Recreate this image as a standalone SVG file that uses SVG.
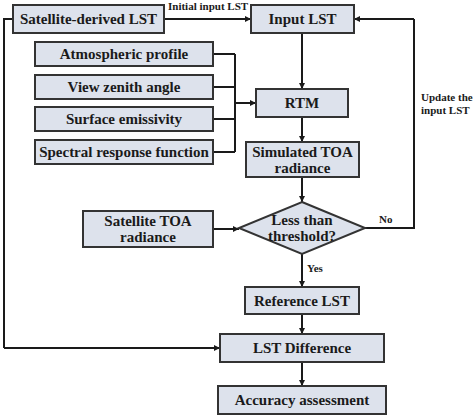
<svg xmlns="http://www.w3.org/2000/svg" width="474" height="417" viewBox="0 0 474 417">
<defs>
<marker id="ah" viewBox="0 0 10 10" refX="10" refY="5" markerWidth="6" markerHeight="6" markerUnits="userSpaceOnUse" orient="auto">
<path d="M0,0 L10,5 L0,10 z" fill="#1a1a1a"/>
</marker>
<style>
.box{fill:#dde2ec;stroke:#333;stroke-width:2}
.t{font-family:"Liberation Serif","Times New Roman",serif;font-weight:bold;font-size:15px;fill:#1a1a1a;text-anchor:middle}
.s{font-family:"Liberation Serif","Times New Roman",serif;font-weight:bold;font-size:11px;fill:#1a1a1a}
.c{fill:none;stroke:#1a1a1a;stroke-width:2}
.a{marker-end:url(#ah)}
</style>
</defs>
<rect width="474" height="417" fill="#fff"/>
<g id="connectors">
<path class="c a" d="M164,19 H251"/>
<path class="c" d="M13,19 H4 V348"/>
<path class="c a" d="M4,348 H220"/>
<path class="c a" d="M302,33 V89"/>
<path class="c" d="M213,54 H235 M213,87 H235 M213,119 H235 M213,152 H235 M235,54 V152"/>
<path class="c a" d="M235,103 H256"/>
<path class="c a" d="M302,117 V142"/>
<path class="c a" d="M302,177 V202"/>
<path class="c a" d="M213,229 H239"/>
<path class="c" d="M365,228 H414 V19"/>
<path class="c a" d="M414,19 H354"/>
<path class="c a" d="M302,254 V287"/>
<path class="c a" d="M302,314 V334"/>
<path class="c a" d="M302,362 V386"/>
<text class="s" x="168" y="10">Initial input LST</text>
<text class="s" x="421" y="101">Update the</text>
<text class="s" x="421" y="114">input LST</text>
<text class="s" x="379" y="223">No</text>
<text class="s" x="307" y="272">Yes</text>
</g>
<g id="satellite-derived-lst"><rect class="box" x="13" y="5" width="151" height="28"/><text class="t" x="88.5" y="24">Satellite-derived LST</text></g>
<g id="input-lst"><rect class="box" x="251" y="5" width="103" height="28"/><text class="t" x="302.5" y="24">Input LST</text></g>
<g id="atmospheric-profile"><rect class="box" x="35" y="42" width="178" height="24"/><text class="t" x="124" y="59">Atmospheric profile</text></g>
<g id="view-zenith-angle"><rect class="box" x="35" y="75" width="178" height="24"/><text class="t" x="124" y="92">View zenith angle</text></g>
<g id="surface-emissivity"><rect class="box" x="35" y="107" width="178" height="24"/><text class="t" x="124" y="124">Surface emissivity</text></g>
<g id="spectral-response-function"><rect class="box" x="35" y="140" width="178" height="24"/><text class="t" x="124" y="157">Spectral response function</text></g>
<g id="rtm"><rect class="box" x="256" y="89" width="92" height="28"/><text class="t" x="302" y="108">RTM</text></g>
<g id="simulated-toa"><rect class="box" x="246" y="142" width="113" height="35"/><text class="t" x="302.5" y="157">Simulated TOA</text><text class="t" x="302.5" y="173">radiance</text></g>
<g id="satellite-toa"><rect class="box" x="83" y="211" width="130" height="36"/><text class="t" x="148" y="226">Satellite TOA</text><text class="t" x="148" y="242">radiance</text></g>
<g id="threshold"><path class="box" d="M302,202 L365,228 L302,254 L239,228 Z"/><text class="t" x="302" y="225">Less than</text><text class="t" x="302" y="241">threshold?</text></g>
<g id="reference-lst"><rect class="box" x="245" y="287" width="114" height="27"/><text class="t" x="302" y="306">Reference LST</text></g>
<g id="lst-difference"><rect class="box" x="220" y="334" width="164" height="28"/><text class="t" x="302" y="353">LST Difference</text></g>
<g id="accuracy-assessment"><rect class="box" x="218" y="386" width="168" height="28"/><text class="t" x="302" y="405">Accuracy assessment</text></g>
</svg>
